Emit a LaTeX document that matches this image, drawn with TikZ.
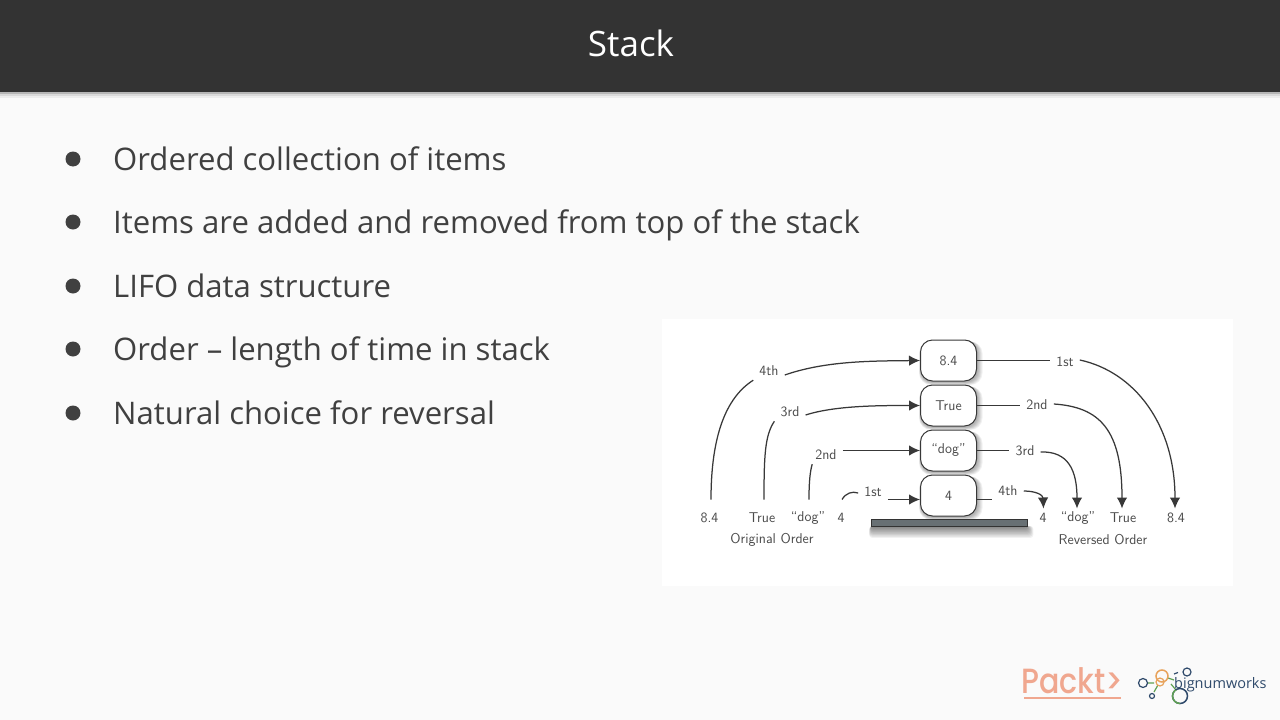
\documentclass[tikz,border=0pt]{standalone}
\usepackage{fontspec}
\setmainfont{Open Sans}
\newfontfamily\packtfont{Poppins Medium}
\usetikzlibrary{arrows.meta,calc}
\definecolor{bg}{HTML}{FAFAFA}
\definecolor{hdr}{HTML}{333333}
\definecolor{ink}{HTML}{404040}
\definecolor{dia}{HTML}{4A4A4A}
\definecolor{line}{HTML}{383838}
\definecolor{plat}{HTML}{687074}
\definecolor{packt}{HTML}{F0A78F}
\definecolor{bnnavy}{HTML}{2F4A6B}
\definecolor{bngreen}{HTML}{5FA052}
\definecolor{bnorange}{HTML}{E8A35C}
\tikzset{
  bullettext/.style={anchor=base west,inner sep=0,text=ink,font=\fontsize{31.1}{36}\selectfont},
  dot/.style={circle,fill=ink,inner sep=0,minimum size=15},
  lab/.style={text=dia,font=\sffamily\fontsize{14.2}{16}\selectfont,inner sep=0},
  steplabel/.style={lab,inner xsep=6,inner ysep=4},
  endlabel/.style={lab,minimum height=36},
  tiplabel/.style={lab,minimum height=18},
  conn/.style={draw=line,line width=1.25},
  arr/.style={conn,-{Latex[length=11,width=10.5]}},
  stackbox/.style={lab,draw=line,line width=1,fill=white,rounded corners=12,minimum width=56,minimum height=41},
  softshadow/.style={fill=black,fill opacity=.055},
  platform/.style={draw=hdr,line width=.6,fill=plat,minimum width=156,minimum height=7,inner sep=0},
}
\begin{document}
\begin{tikzpicture}[x=1pt,y=-1pt]
\useasboundingbox (0,0) rectangle (1280,720);
\fill[bg] (0,0) rectangle (1280,720);
% header
\foreach \h/\o in {98/.05,96/.08,94/.16}{\fill[black,opacity=\o] (0,0) rectangle (1280,\h);}
\fill[hdr] (0,0) rectangle (1280,92);
\node[anchor=base,inner sep=0,text=white,font=\fontsize{35}{40}\selectfont] (title) at (631,56) {Stack};
% bullets
\foreach \n/\y/\t in {a/159/Ordered collection of items,b/222/Items are added and removed from top of the stack,c/286/LIFO data structure,d/349/Order – length of time in stack,e/413/Natural choice for reversal}{
  \node[dot] (dot\n) at (73,\y) {};
  \node[bullettext] (txt\n) at (113,\y+11) {\t};
}
% panel
\fill[white] (662,319) rectangle (1233,586);
% soft shadows
\foreach \i in {0,...,9}{
  \fill[softshadow,rounded corners=3] (871-.2*\i,526) rectangle (1027+.7*\i,528+1.1*\i);
}
\foreach \cy in {360.5,405.5,450.5,495.5}{
  \foreach \i in {0,...,5}{
    \fill[softshadow,rounded corners=12] (920.5-.3*\i,\cy-20+.2*\i) rectangle (978+.9*\i,\cy+22+.5*\i);
  }
}
% platform and stack
\node[platform] (base) at (949,522.5) {};
\node[stackbox] (b4) at (948.5,495.5) {4};
\node[stackbox] (bdog) at (948.5,450.5) {“dog”};
\node[stackbox] (btrue) at (948.5,405.5) {True};
\node[stackbox] (b84) at (948.5,360.5) {8.4};
% end labels
\node[endlabel] (o84) at (709.5,517.7) {8.4};
\node[endlabel] (otrue) at (762,517.7) {True};
\node[endlabel] (odog) at (808,517.7) {“dog”};
\node[endlabel] (ofour) at (841,517.7) {4};
\node[lab] (ocap) at (772,539.7) {Original Order};
\node[tiplabel] (rfour) at (1043,517.7) {4};
\node[tiplabel] (rdog) at (1078,517.7) {“dog”};
\node[tiplabel] (rtrue) at (1123,517.7) {True};
\node[tiplabel] (r84) at (1176,517.7) {8.4};
\node[lab] (rcap) at (1103,539.7) {Reversed Order};
% step labels
\node[steplabel] (l4) at (769,371) {4th};
\node[steplabel] (l3) at (790,412) {3rd};
\node[steplabel] (l2) at (826,455) {2nd};
\node[steplabel] (l1) at (873,492) {1st};
\node[steplabel] (m1) at (1065,362) {1st};
\node[steplabel] (m2) at (1037,405) {2nd};
\node[steplabel] (m3) at (1025,451) {3rd};
\node[steplabel] (m4) at (1008,491) {4th};
% left connectors
\draw[conn] ([xshift=1.5]o84.north) .. controls (711,445) and (722,400) .. (l4.south west);
\draw[arr] ([yshift=-4]l4.east) .. controls (825,361) and (870,361) .. (b84.west);
\draw[conn] ([xshift=2]otrue.north) .. controls (764,455) and (765,435) .. (l3.south west);
\draw[arr] ([yshift=-3]l3.east) .. controls (835,405.5) and (880,405.5) .. (btrue.west);
\draw[conn] ([xshift=1]odog.north) .. controls (809,482) and (810,472) .. ([xshift=3]l2.south west);
\draw[arr] (l2.east |- bdog.west) -- (bdog.west);
\draw[conn] ([xshift=1]ofour.north) .. controls (846,493) and (852,491) .. ([yshift=-1]l1.west);
\draw[arr] ([yshift=-4]l1.east |- b4.west) -- ([yshift=-4]b4.west);
% right connectors
\draw[conn] (b84.east) -- (m1.west |- b84.east);
\draw[arr] ([yshift=2]m1.east) .. controls (1135,372) and (1175,425) .. ([xshift=-1]r84.north);
\draw[conn] (btrue.east) -- (m2.west |- btrue.east);
\draw[arr] ([yshift=1]m2.east) .. controls (1100,407) and (1122,430) .. ([xshift=-1]rtrue.north);
\draw[conn] (bdog.east) -- (m3.west |- bdog.east);
\draw[arr] ([yshift=-1]m3.east) .. controls (1068,451) and (1077,470) .. ([xshift=-1]rdog.north);
\draw[conn] ([yshift=-4]b4.east) -- ([yshift=-4]m4.west |- b4.east);
\draw[arr] (m4.east) .. controls (1036,491) and (1043,495) .. ([xshift=.5]rfour.north);
% Packt logo
\node[anchor=base,inner sep=0,text=packt,xscale=.86,font=\packtfont\fontsize{35}{40}\selectfont] (packt) at (1072.5,693) {Packt>};
\fill[packt] (1024,696.5) rectangle (1121,699);
% bignumworks logo
\node[anchor=base west,inner sep=0,text=bnnavy,font=\fontsize{14.5}{16}\selectfont] (bnw) at (1174,688) {bignumworks};
\begin{scope}[line width=1.2]
\draw[bngreen] (1147.5,683) -- (1154,683) (1154,692) -- (1158,685) (1168,678) -- (1174,680) (1171,684) -- (1176,690);
\draw[bnnavy] (1143,683) circle (4.5);
\draw[bnorange,line width=1.5] (1162,676) circle (6);
\draw[bnorange] (1160,682) circle (4);
\draw[bnnavy] (1187,672) circle (4);
\draw[bnnavy] (1174,674) -- (1178,672.5);
\draw[bnnavy] (1152,696) circle (2.5);
\draw[bnnavy,line width=1.5] (1180,696) circle (7.5);
\begin{scope}
\clip (1171,690) rectangle (1180,705);
\draw[bngreen,line width=1.5] (1180,696) circle (7.5);
\end{scope}
\end{scope}
\end{tikzpicture}
\end{document}
